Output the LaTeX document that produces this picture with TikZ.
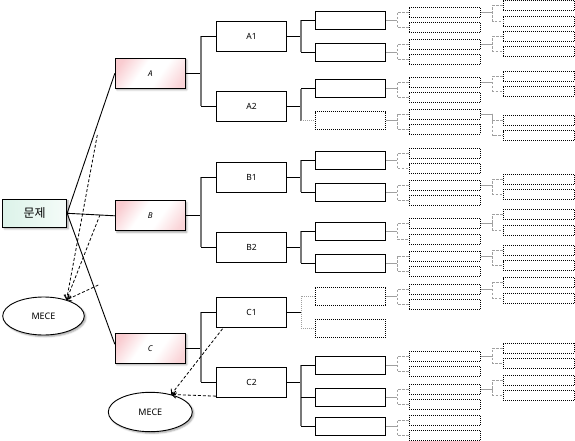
\documentclass[tikz,border=0pt]{standalone}
\usepackage{fontspec}
\setmainfont{Noto Sans}
\newfontfamily\krfont{Noto Sans CJK KR}
\usetikzlibrary{shadows,shadows.blur,arrows.meta,calc,shapes.geometric}
\definecolor{pinkc}{RGB}{248,195,200}
\definecolor{mintc}{RGB}{220,243,233}
\definecolor{brgray}{RGB}{120,120,120}
\definecolor{ltgray}{RGB}{160,160,160}
\pgfdeclarehorizontalshading{pinkdiag}{100bp}{color(0bp)=(pinkc); color(22bp)=(pinkc!85); color(42bp)=(white); color(58bp)=(white); color(78bp)=(pinkc!70); color(100bp)=(pinkc!80)}
\tikzset{
  sh/.style={blur shadow={shadow xshift=1.6pt,shadow yshift=-1.6pt,shadow blur radius=1.6pt,shadow opacity=35}},
  topbox/.style={draw, line width=0.9pt, minimum width=64pt, minimum height=28pt, inner sep=0pt,
    left color=mintc, right color=mintc!30, sh, font=\krfont\fontsize{12}{14}\selectfont},
  lv1/.style={draw, line width=0.9pt, minimum width=70pt, minimum height=30pt, inner sep=0pt,
    shade, shading=pinkdiag, shading angle=-35, sh, font=\itshape\fontsize{8}{10}\selectfont},
  lv2/.style={draw, line width=0.9pt, fill=white, minimum width=70.4pt, minimum height=30pt, inner sep=0pt,
    font=\fontsize{8.5}{10}\selectfont},
  l3/.style={draw, line width=0.9pt, minimum width=70.4pt, minimum height=18pt, inner sep=0pt},
  l3d/.style={draw, line width=0.8pt, dash pattern=on 1pt off 1pt, minimum width=70.4pt, minimum height=18pt, inner sep=0pt},
  l4/.style={draw, line width=0.8pt, dash pattern=on 1pt off 1pt, minimum width=71.4pt, minimum height=10pt, inner sep=0pt},
  mece/.style={ellipse, draw, line width=0.9pt, fill=white, inner sep=0pt, sh, font=\fontsize{9}{11}\selectfont},
  blk/.style={draw=black, line width=0.9pt},
  gthick/.style={draw=brgray, line width=1.6pt},
  gdot/.style={draw=ltgray, line width=1pt, dash pattern=on 1pt off 1pt},
  gstub/.style={draw=ltgray, line width=0.9pt},
  gdash/.style={draw=ltgray, line width=0.9pt, dash pattern=on 2.5pt off 1.5pt},
  dsh/.style={draw=black, line width=0.8pt, dash pattern=on 3pt off 2pt, -{Straight Barb[length=4pt,width=7pt]}}
}
\begin{document}
\begin{tikzpicture}[x=1pt,y=-1pt]
\useasboundingbox (0,0) rectangle (575,441);
% level 1
\node[topbox] (P) at (34.7,213.3) {문제};
\node[lv1] (A) at (150.3,73.3) {A};
\node[lv1] (B) at (150.3,215.8) {B};
\node[lv1] (C) at (150.3,348.3) {C};
% level 2
\foreach \n/\y in {A1/36.3,A2/106,B1/177.3,B2/247.3,C1/312.3,C2/382.3}
  \node[lv2] (\n) at (251.5,\y) {\n};
% level 3
\foreach \n/\y/\s in {A1a/20.3/l3,A1b/52.3/l3,A2a/88.8/l3,A2b/120.7/l3d,B1a/160.3/l3,B1b/192.3/l3,B2a/231.2/l3,B2b/263.3/l3,C1a/296/l3d,C1b/328.3/l3d,C2a/365.3/l3,C2b/397.3/l3,C2c/426.3/l3}
  \node[\s] (\n) at (350.5,\y) {};
% level 4
\foreach \n/\y/\z in {A1a/12.3/27.3,A1b/44.3/59.3,A2a/82.3/97.3,A2b/114/129,B1a/153.3/168.8,B1b/185.3/200.3,B2a/223.3/239.3,B2b/256/271.3,C1a/289.3/304.2,C2a/356.3/371.3,C2b/389.3/404.3,C2c/420.3/435.3}{
  \node[l4] (\n1) at (445,\y) {};
  \node[l4] (\n2) at (445,\z) {};
  \draw[gstub] (\n.east) -- ++(11,0) coordinate (j\n);
  \draw[gdash] (\n1.west) -| (j\n) |- (\n2.west);
}
% level 5
\foreach \n/\y/\z in {A1a1/5.3/21.3,A1b1/36.3/51.3,A2a1/76/91,A2b1/120.3/135.8,B1b1/179.3/194.3,B2a1/214.3/230.3,B2b1/250.3/265.7,C1a1/282.7/298.3,C2a1/348/363.3,C2b1/380.3/395.3}{
  \node[l4] (\n u) at (539,\y) {};
  \node[l4] (\n v) at (539,\z) {};
  \draw[gstub] (\n.east) -- ++(11.6,0) coordinate (j\n);
  \draw[gdash] (\n u.west) -| (j\n) |- (\n v.west);
}
% level1 -> level2 brackets
\foreach \p/\a/\b in {A/A1/A2,B/B1/B2,C/C1/C2}{
  \draw[blk] (\p.east) -- ++(15.4,0) coordinate (k\p);
  \draw[gthick] (k\p |- \a.west) -- (k\p |- \b.west);
  \draw[blk] (k\p |- \a.west) -- (\a.west);
  \draw[blk] (k\p |- \b.west) -- (\b.west);
}
% level2 -> level3 brackets (solid)
\foreach \p in {A1,B1,B2}{
  \draw[blk] (\p.east) -- ++(14,0) coordinate (k\p);
  \draw[gthick] (k\p |- \p a.west) -- (k\p |- \p b.west);
  \draw[blk] (k\p |- \p a.west) -- (\p a.west);
  \draw[blk] (k\p |- \p b.west) -- (\p b.west);
}
% A2
\draw[blk] (A2.east) -- ++(14,0) coordinate (kA2);
\draw[gthick] (kA2 |- A2a.west) -- (kA2 |- A2b.west);
\draw[blk] (kA2 |- A2a.west) -- (A2a.west);
\draw[gdot] (kA2 |- A2b.west) -- (A2b.west);
% C1
\draw[blk] (C1.east) -- ++(14,0) coordinate (kC1);
\draw[gdot] (C1a.west) -| (kC1) |- (C1b.west);
% C2
\draw[blk] (C2.east) -- ++(14,0) coordinate (kC2);
\draw[gthick] (kC2 |- C2a.west) -- (kC2 |- C2c.west);
\draw[blk] (kC2 |- C2a.west) -- (C2a.west);
\draw[blk] (kC2 |- C2b.west) -- (C2b.west);
\draw[blk] (kC2 |- C2c.west) -- (C2c.west);
% problem -> level 1
\draw[blk] (P.east) -- (A.west);
\draw[blk] (P.east) -- (B.west);
\draw[blk] (P.east) -- ($(C.west)+(0,-4)$);
% MECE
\node[mece, minimum width=81.6pt, minimum height=38pt] (M1) at (43.5,316) {MECE};
\node[mece, minimum width=84pt, minimum height=39.4pt] (M2) at (150.3,412) {MECE};
\coordinate (d1) at (97.3,135);
\coordinate (d2) at (100,214.8);
\coordinate (d3) at (98.3,285);
\draw[dsh] (d1) -- (M1.35);
\draw[dsh] (d2) -- (M1.35);
\draw[dsh] (d3) -- (M1.35);
\coordinate (e1) at ($(C1.south west)+(6.7,1)$);
\coordinate (e2) at ($(C2.south west)+(0,-1.6)$);
\draw[dsh] (e1) -- (M2.40);
\draw[dsh] (e2) -- (M2.40);
\end{tikzpicture}
\end{document}
